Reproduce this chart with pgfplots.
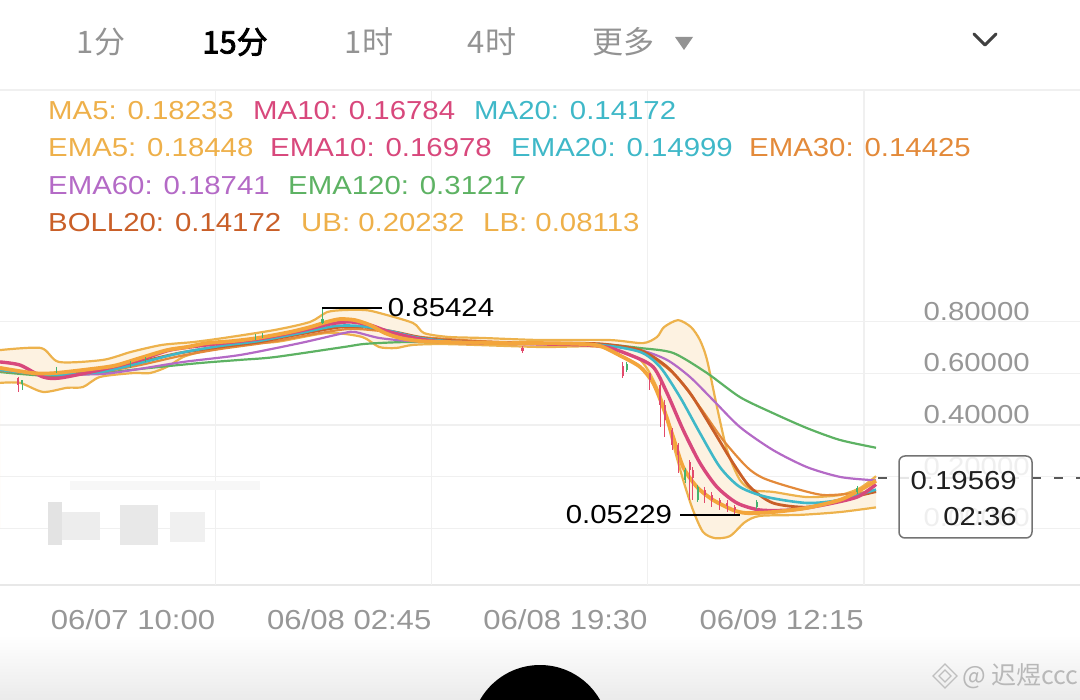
\documentclass[border=0pt]{standalone}
\usepackage{pgfplots}
\usepackage{pgfplotstable}
\pgfplotsset{compat=1.18}
\usepackage{fontspec}
\setmainfont{Liberation Sans}[FakeStretch=1.13]
\newfontfamily\cjk{Noto Sans CJK SC}
\newfontfamily\cjkb{Noto Sans CJK SC}[FakeBold=2.5]
\newcommand\lf{\fontsize{26}{30}\selectfont}
\definecolor{cMAfive}{HTML}{EEB04A}
\definecolor{cEMAfiveLine}{HTML}{F3A53C}
\definecolor{cMAten}{HTML}{D8487C}
\definecolor{cMAtwenty}{HTML}{3FB8C8}
\definecolor{cEMAthirty}{HTML}{E38A3A}
\definecolor{cEMAsixty}{HTML}{B46AC6}
\definecolor{cEMAonetwenty}{HTML}{5DB263}
\definecolor{cBOLL}{HTML}{C95F28}
\definecolor{cBand}{HTML}{EDB24C}
\definecolor{cFill}{HTML}{FDF2E1}
\definecolor{cGrid}{HTML}{F0F0F0}
\definecolor{cLabel}{HTML}{979797}
\definecolor{cTab}{HTML}{939393}
\definecolor{cRed}{HTML}{E24A6C}
\definecolor{cGreen}{HTML}{45B36E}
\pgfplotsset{
  rw/.style={cRed, line width=1pt, sharp plot, forget plot},
  rb/.style={cRed, line width=2.4pt, sharp plot, forget plot},
  gw/.style={cGreen, line width=1pt, sharp plot, forget plot},
  gb/.style={cGreen, line width=2.4pt, sharp plot, forget plot},
}
% Bollinger upper / lower band (x: hours from 06/07 10:00, y: price)
\pgfplotstableread{
x y
-16.68 0.690
-13.50 0.698
-12.11 0.644
-8.70 0.652
-6.53 0.683
-4.13 0.710
-1.73 0.721
0.67 0.737
4.62 0.768
7.34 0.799
8.65 0.837
9.97 0.845
11.60 0.845
12.68 0.834
15.31 0.795
16.16 0.756
18.03 0.741
20.66 0.737
25.15 0.729
30.50 0.729
33.13 0.717
34.22 0.741
34.76 0.779
35.85 0.806
36.85 0.779
37.54 0.729
38.09 0.652
38.86 0.470
39.64 0.303
40.64 0.187
41.65 0.148
43.20 0.141
45.83 0.121
48.39 0.129
49.94 0.156
51.18 0.202
}\ubdata
\pgfplotstableread{
x y
-16.68 0.563
-15.13 0.563
-13.35 0.528
-11.49 0.544
-10.25 0.547
-8.93 0.586
-6.38 0.601
-5.06 0.601
-3.74 0.625
-2.50 0.663
-1.18 0.683
1.37 0.717
4.62 0.721
8.65 0.756
11.36 0.741
12.68 0.702
14.00 0.698
15.31 0.710
18.03 0.713
25.15 0.702
29.80 0.702
32.90 0.652
34.45 0.516
35.38 0.342
36.24 0.187
37.00 0.071
37.78 -0.014
38.71 -0.038
39.87 -0.030
41.03 0.024
42.19 0.048
45.29 0.052
48.39 0.063
51.18 0.081
}\lbdata
% band outline: upper band forward, lower band backward
\pgfplotstableread{
x y
-16.68 0.690
-13.50 0.698
-12.11 0.644
-8.70 0.652
-6.53 0.683
-4.13 0.710
-1.73 0.721
0.67 0.737
4.62 0.768
7.34 0.799
8.65 0.837
9.97 0.845
11.60 0.845
12.68 0.834
15.31 0.795
16.16 0.756
18.03 0.741
20.66 0.737
25.15 0.729
30.50 0.729
33.13 0.717
34.22 0.741
34.76 0.779
35.85 0.806
36.85 0.779
37.54 0.729
38.09 0.652
38.86 0.470
39.64 0.303
40.64 0.187
41.65 0.148
43.20 0.141
45.83 0.121
48.39 0.129
49.94 0.156
51.18 0.202
51.18 0.081
48.39 0.063
45.29 0.052
42.19 0.048
41.03 0.024
39.87 -0.030
38.71 -0.038
37.78 -0.014
37.00 0.071
36.24 0.187
35.38 0.342
34.45 0.516
32.90 0.652
29.80 0.702
25.15 0.702
18.03 0.713
15.31 0.710
14.00 0.698
12.68 0.702
11.36 0.741
8.65 0.756
4.62 0.721
1.37 0.717
-1.18 0.683
-2.50 0.663
-3.74 0.625
-5.06 0.601
-6.38 0.601
-8.93 0.586
-10.25 0.547
-11.49 0.544
-13.35 0.528
-15.13 0.563
-16.68 0.563
}\banddata
\begin{document}
\begin{tikzpicture}
\shade[top color=white,bottom color=black!8] (0,-635pt) rectangle (1080pt,-700pt);
\begin{axis}[
  at={(0pt,0pt)}, anchor=north west, scale only axis,
  width=1080pt, height=700pt,
  xmin=-16.68, xmax=66.98, ymin=-0.6646, ymax=2.0453,
  axis line style={draw=none}, major tick length=0pt,
  ytick={0,0.2,0.4,0.6,0.8}, yticklabel pos=right,
  ymajorgrids, grid style={cGrid, line width=1.2pt},
  xtick={0,16.75,33.5,50.25},
  xticklabels={06/07 10:00,06/08 02:45,06/08 19:30,06/09 12:15},
  tick label style={font=\lf, text=cLabel, inner sep=0pt},
  xticklabel style={anchor=east, yshift=80pt, font=\fontsize{27.5}{30}\selectfont},
  yticklabel style={anchor=east, xshift=-50pt, yshift=10.5pt,
    /pgf/number format/.cd, fixed, fixed zerofill, precision=5, assume math mode=true},
]
% grid frame
\draw[cGrid, line width=1.2pt] (axis cs:-16.68,1.6969) -- (axis cs:66.98,1.6969);
\draw[black!9, line width=1.2pt] (axis cs:-16.68,-0.2195) -- (axis cs:66.98,-0.2195);
\draw[cGrid, line width=1.2pt] (axis cs:0,-0.2195) -- (axis cs:0,1.6969);
\draw[cGrid, line width=1.2pt] (axis cs:16.75,-0.2195) -- (axis cs:16.75,1.6969);
\draw[cGrid, line width=1.2pt] (axis cs:33.5,-0.2195) -- (axis cs:33.5,1.6969);
\draw[cGrid, line width=1.2pt] (axis cs:50.25,-0.2195) -- (axis cs:50.25,1.6969);
% Bollinger band fill and lines
\addplot[fill=cFill, draw=none, sharp plot] table {\banddata} \closedcycle;
\addplot[cBand, line width=2.2pt, smooth, tension=0.45] table {\ubdata};
\addplot[cBand, line width=2.2pt, smooth, tension=0.45] table {\lbdata};
% EMA120
\addplot[cEMAonetwenty, line width=2.2pt, smooth, tension=0.45] coordinates {
(-16.68,0.605)(-12.81,0.590)(-8.93,0.601)(-5.06,0.621)(-1.18,0.640)(1.91,0.652)(4.62,0.663)(9.97,0.702)(11.60,0.714)(14.54,0.721)(18.03,0.721)(25.15,0.717)(30.50,0.710)(32.90,0.698)(35.46,0.679)(38.09,0.601)(40.64,0.508)(43.20,0.446)(45.83,0.388)(48.39,0.342)(51.18,0.312)};
% EMA60
\addplot[cEMAsixty, line width=2.2pt, smooth, tension=0.45] coordinates {
(-16.68,0.613)(-12.81,0.597)(-8.93,0.597)(-6.38,0.613)(-2.50,0.644)(1.91,0.671)(6.56,0.717)(9.97,0.756)(10.82,0.760)(12.68,0.737)(15.08,0.725)(18.03,0.721)(25.15,0.717)(29.80,0.710)(32.90,0.690)(34.99,0.652)(36.77,0.586)(38.55,0.497)(40.64,0.392)(43.20,0.303)(45.83,0.237)(48.39,0.199)(50.71,0.187)(51.18,0.187)};
% EMA30
\addplot[cEMAthirty, line width=2.2pt, smooth, tension=0.45] coordinates {
(-16.68,0.609)(-12.03,0.597)(-8.93,0.605)(-5.84,0.632)(-2.73,0.667)(0.36,0.694)(4.24,0.721)(8.11,0.756)(10.43,0.772)(12.76,0.764)(15.85,0.741)(20.50,0.725)(25.15,0.717)(29.80,0.714)(32.90,0.686)(35.46,0.601)(37.54,0.469)(39.33,0.342)(41.18,0.237)(42.42,0.195)(44.52,0.160)(47.07,0.129)(49.71,0.137)(51.18,0.144)};
% BOLL mid / MA20
\addplot[cBOLL, line width=2.8pt, smooth, tension=0.45] coordinates {
(-16.68,0.613)(-12.81,0.594)(-8.93,0.609)(-5.84,0.644)(-2.73,0.679)(0.36,0.702)(3.31,0.721)(6.56,0.752)(9.66,0.779)(11.60,0.779)(13.92,0.760)(16.63,0.733)(20.50,0.721)(25.15,0.717)(29.80,0.714)(32.90,0.690)(34.99,0.625)(36.77,0.524)(38.55,0.381)(40.10,0.253)(41.42,0.160)(43.20,0.098)(45.83,0.082)(48.39,0.110)(51.18,0.142)};
% EMA20
\addplot[cMAtwenty, line width=2.6pt, smooth, tension=0.45] coordinates {
(-16.68,0.613)(-12.81,0.594)(-8.93,0.605)(-5.84,0.640)(-2.73,0.679)(0.36,0.706)(3.31,0.725)(6.56,0.756)(9.27,0.783)(11.21,0.783)(13.53,0.764)(15.85,0.737)(18.95,0.721)(25.15,0.714)(29.80,0.710)(32.90,0.683)(34.45,0.625)(36.00,0.508)(37.54,0.369)(39.09,0.237)(40.64,0.160)(42.73,0.121)(45.83,0.098)(48.39,0.110)(51.18,0.150)};
% EMA10
\addplot[cMAten, line width=3.4pt, smooth, tension=0.45] coordinates {
(-16.68,0.644)(-15.13,0.632)(-13.35,0.586)(-12.03,0.582)(-8.93,0.613)(-5.84,0.652)(-3.51,0.690)(-0.64,0.710)(3.31,0.733)(6.56,0.764)(8.88,0.791)(10.43,0.799)(11.98,0.787)(13.53,0.760)(15.85,0.733)(18.03,0.721)(25.15,0.714)(29.80,0.706)(32.12,0.671)(33.91,0.625)(34.99,0.524)(36.24,0.381)(37.54,0.253)(38.86,0.160)(40.41,0.098)(42.19,0.071)(44.52,0.071)(47.07,0.090)(49.71,0.121)(51.18,0.170)};
% EMA5
\addplot[cEMAfiveLine, line width=3.8pt, smooth, tension=0.45] coordinates {
(-16.68,0.621)(-14.12,0.601)(-12.42,0.601)(-8.93,0.621)(-7.61,0.632)(-5.84,0.659)(-3.74,0.690)(-2.19,0.702)(-0.64,0.717)(1.37,0.725)(3.31,0.737)(5.79,0.760)(7.34,0.779)(8.65,0.799)(9.66,0.810)(10.82,0.806)(11.98,0.787)(13.14,0.756)(14.31,0.737)(15.85,0.725)(18.03,0.721)(22.05,0.717)(25.15,0.717)(28.25,0.714)(29.80,0.706)(31.27,0.671)(32.90,0.625)(33.91,0.563)(34.68,0.470)(35.46,0.354)(36.24,0.237)(37.31,0.160)(38.55,0.110)(40.10,0.071)(41.18,0.059)(43.20,0.063)(45.83,0.079)(48.39,0.110)(49.94,0.148)(51.18,0.184)};
% candles (red: falling, green: rising) -- wick, then body
\addplot[rw] coordinates {(-15.28,0.586)(-15.28,0.528)};
\addplot[rb] coordinates {(-15.28,0.582)(-15.28,0.555)};
\addplot[rw] coordinates {(23.80,0.705)(23.80,0.678)};
\addplot[rb] coordinates {(23.80,0.700)(23.80,0.686)};
\addplot[rw] coordinates {(31.58,0.644)(31.58,0.582)};
\addplot[rb] coordinates {(31.58,0.629)(31.58,0.590)};
\addplot[rw] coordinates {(33.67,0.601)(33.67,0.535)};
\addplot[rb] coordinates {(33.67,0.601)(33.67,0.574)};
\addplot[rw] coordinates {(34.45,0.574)(34.45,0.392)};
\addplot[rb] coordinates {(34.45,0.555)(34.45,0.477)};
\addplot[rw] coordinates {(34.83,0.497)(34.83,0.353)};
\addplot[rb] coordinates {(34.83,0.477)(34.83,0.419)};
\addplot[rw] coordinates {(35.38,0.388)(35.38,0.303)};
\addplot[rb] coordinates {(35.38,0.381)(35.38,0.322)};
\addplot[rw] coordinates {(35.85,0.330)(35.85,0.214)};
\addplot[rb] coordinates {(35.85,0.322)(35.85,0.284)};
\addplot[rw] coordinates {(36.77,0.264)(36.77,0.110)};
\addplot[rb] coordinates {(36.77,0.257)(36.77,0.226)};
\addplot[rw] coordinates {(37.00,0.237)(37.00,0.110)};
\addplot[rb] coordinates {(37.00,0.226)(37.00,0.195)};
\addplot[rw] coordinates {(37.93,0.160)(37.93,0.098)};
\addplot[rb] coordinates {(37.93,0.148)(37.93,0.129)};
\addplot[rw] coordinates {(38.47,0.141)(38.47,0.082)};
\addplot[rb] coordinates {(38.47,0.129)(38.47,0.110)};
\addplot[rw] coordinates {(39.09,0.117)(39.09,0.071)};
\addplot[rb] coordinates {(39.09,0.110)(39.09,0.098)};
\addplot[rw] coordinates {(39.64,0.110)(39.64,0.063)};
\addplot[rb] coordinates {(39.64,0.098)(39.64,0.086)};
\addplot[rw] coordinates {(40.25,0.090)(40.25,0.052)};
\addplot[rb] coordinates {(40.25,0.082)(40.25,0.071)};
\addplot[gw] coordinates {(-14.97,0.574)(-14.97,0.535)};
\addplot[gb] coordinates {(-14.97,0.574)(-14.97,0.559)};
\addplot[gw] coordinates {(-12.27,0.625)(-12.27,0.600)};
\addplot[gw] coordinates {(-6.60,0.648)(-6.60,0.622)};
\addplot[gw] coordinates {(-5.44,0.662)(-5.44,0.645)};
\addplot[gw] coordinates {(3.08,0.752)(3.08,0.730)};
\addplot[gw] coordinates {(3.62,0.755)(3.62,0.735)};
\addplot[gw] coordinates {(8.29,0.854)(8.29,0.790)};
\addplot[gb] coordinates {(8.29,0.812)(8.29,0.795)};
\addplot[gw] coordinates {(31.89,0.644)(31.89,0.605)};
\addplot[gb] coordinates {(31.89,0.637)(31.89,0.613)};
\addplot[gw] coordinates {(36.39,0.233)(36.39,0.175)};
\addplot[gb] coordinates {(36.39,0.226)(36.39,0.187)};
\addplot[gw] coordinates {(37.39,0.168)(37.39,0.102)};
\addplot[gb] coordinates {(37.39,0.160)(37.39,0.110)};
\addplot[gw] coordinates {(41.96,0.110)(41.96,0.075)};
\addplot[gb] coordinates {(41.96,0.102)(41.96,0.082)};
\addplot[gw] coordinates {(49.71,0.164)(49.71,0.133)};
\addplot[gb] coordinates {(49.71,0.156)(49.71,0.141)};
% high / low markers
\draw[black, line width=2pt] (axis cs:8.29,0.85424) -- (axis cs:12.91,0.85424)
  node[anchor=west, inner sep=0pt, xshift=5pt, font=\lf, text=black]{0.85424};
\draw[black, line width=2pt] (axis cs:40.64,0.05229) -- (axis cs:36.00,0.05229)
  node[anchor=east, inner sep=0pt, xshift=-7pt, font=\lf, text=black]{0.05229};
% last price dashed line
\draw[black!65, line width=1.6pt, dash pattern=on 9pt off 13pt] (axis cs:51.35,0.19569) -- (axis cs:66.98,0.19569);
\end{axis}
\begin{scope}[x=1pt,y=-1pt]
% price box
\draw[rounded corners=6pt, fill=white, fill opacity=0.85, draw=black!55, line width=1.5pt] (899,456) rectangle (1032,538);
\node[anchor=east, inner sep=0pt, font=\lf, text=black!88] at (1017,481) {0.19569};
\node[anchor=east, inner sep=0pt, font=\lf, text=black!88] at (1017,517) {02:36};
% legend
\begin{scope}[every node/.style={anchor=west, inner sep=0pt, font=\lf}]
\node[text=cMAfive] at (48,111) {MA5: 0.18233};
\node[text=cMAten] at (253,111) {MA10: 0.16784};
\node[text=cMAtwenty] at (474,111) {MA20: 0.14172};
\node[text=cMAfive] at (48,148) {EMA5: 0.18448};
\node[text=cMAten] at (270,148) {EMA10: 0.16978};
\node[text=cMAtwenty] at (511,148) {EMA20: 0.14999};
\node[text=cEMAthirty] at (749,148) {EMA30: 0.14425};
\node[text=cEMAsixty] at (48,186) {EMA60: 0.18741};
\node[text=cEMAonetwenty] at (288,186) {EMA120: 0.31217};
\node[text=cBOLL] at (48,223) {BOLL20: 0.14172};
\node[text=cMAfive] at (301,223) {UB: 0.20232};
\node[text=cMAfive] at (483,223) {LB: 0.08113};
\end{scope}
% tabs
\node[text=cTab, font=\cjk\fontsize{31}{36}\selectfont] at (101,42) {1分};
\node[text=black, font=\cjkb\fontsize{31}{36}\selectfont] at (235,42) {15分};
\node[text=cTab, font=\cjk\fontsize{31}{36}\selectfont] at (369,42) {1时};
\node[text=cTab, font=\cjk\fontsize{31}{36}\selectfont] at (492,42) {4时};
\node[text=cTab, font=\cjk\fontsize{31}{36}\selectfont] at (623,42) {更多};
\fill[cTab] (675,37) -- (693,37) -- (684,50) -- cycle;
\draw[black!75, line width=3pt, line cap=round, line join=round] (974,34) -- (985,45) -- (996,34);
% blurred block
\fill[black!11] (48,502) rectangle (62,545);
\fill[black!7] (62,512) rectangle (100,540);
\fill[black!9] (120,505) rectangle (158,545);
\fill[black!6] (170,512) rectangle (205,542);
\fill[black!3] (70,481) rectangle (260,490);
% watermark
\draw[black!25, line width=1.2pt] (945,664) -- (957,676) -- (945,688) -- (933,676) -- cycle;
\draw[black!25, line width=1.2pt] (945,670) -- (951,676) -- (945,682) -- (939,676) -- cycle;
\node[anchor=west, inner sep=0pt, text=black!28, font=\cjk\fontsize{25}{28}\selectfont] at (962,676) {@ 迟煜ccc};
% bottom dark button
\begin{scope}
\clip (0,0) rectangle (1080,700);
\fill[black] (540,734) circle (69);
\end{scope}
\end{scope}
\pgfresetboundingbox
\path[use as bounding box] (0,0) rectangle (1080pt,-700pt);
\end{tikzpicture}
\end{document}
